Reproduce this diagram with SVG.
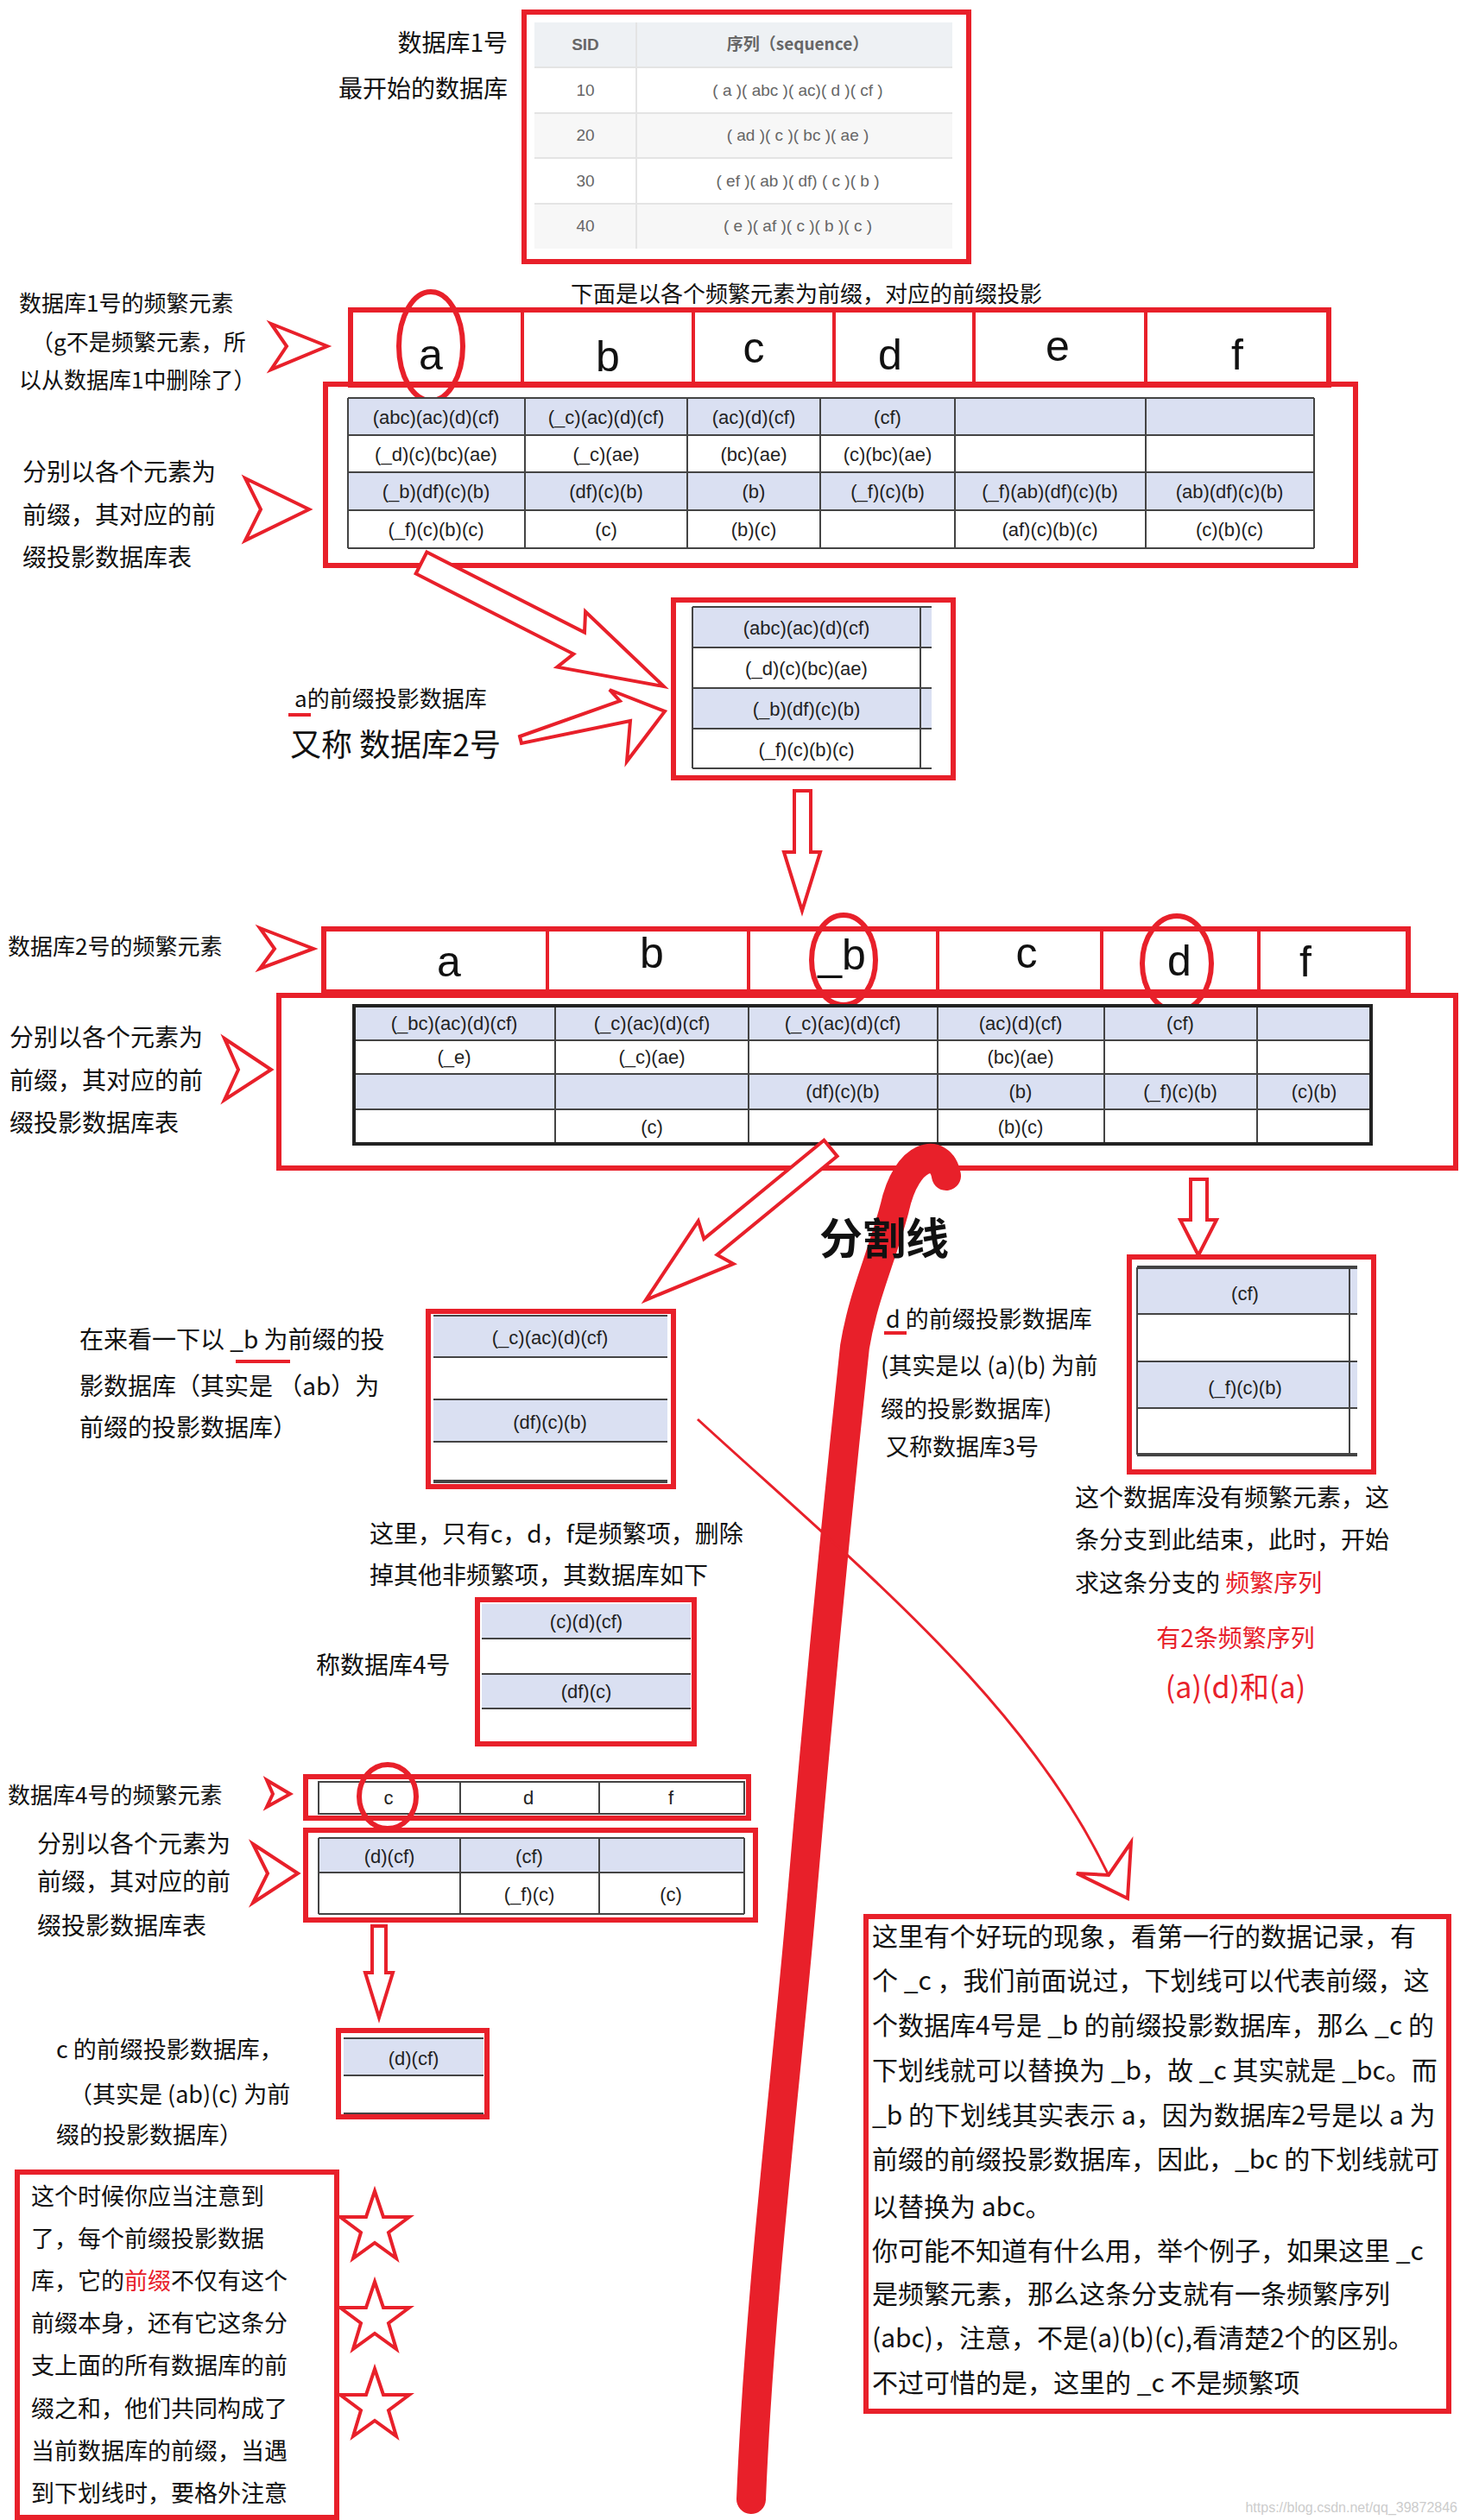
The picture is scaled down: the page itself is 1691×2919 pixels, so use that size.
<svg xmlns="http://www.w3.org/2000/svg" width="1691" height="2919" viewBox="0 0 1691 2919">
<style>
.cn{font-family:"Noto Sans CJK SC","Liberation Sans",sans-serif;fill:#111}
.red{fill:#e8202a}
.rb{fill:none;stroke:#e8202a;stroke-width:6}
.hol{fill:#fff;stroke:#e8202a;stroke-width:4}
.cell{font-family:"Liberation Sans","DejaVu Sans",sans-serif;font-size:22px;fill:#222;text-anchor:middle}
.big{font-family:"Liberation Sans",sans-serif;font-size:50px;fill:#111;text-anchor:middle}
.blue{fill:#dae0f2}
.gl{stroke:#444;stroke-width:2}
.tl{font-family:"Liberation Sans",sans-serif;font-size:19px;fill:#666;text-anchor:middle}
</style>
<rect width="1691" height="2919" fill="#fff"/>

<!-- DB1 -->
<g id="db1">
<text class="cn" x="588" y="60" font-size="28" text-anchor="end">数据库1号</text>
<text class="cn" x="588" y="113" font-size="28" text-anchor="end">最开始的数据库</text>
<rect x="619" y="26" width="484" height="52" fill="#eef1f4"/>
<rect x="619" y="131" width="484" height="52" fill="#f7f7f7"/>
<rect x="619" y="236" width="484" height="52" fill="#f7f7f7"/>
<g stroke="#e4e4e4" stroke-width="2"><line x1="619" y1="78" x2="1103" y2="78"/><line x1="619" y1="131" x2="1103" y2="131"/><line x1="619" y1="183" x2="1103" y2="183"/><line x1="619" y1="236" x2="1103" y2="236"/><line x1="737" y1="26" x2="737" y2="288"/></g>
<text class="tl" x="678" y="58" font-weight="bold" font-size="18">SID</text>
<text class="tl" x="924" y="58" font-weight="bold" font-size="18" style="font-family:'Noto Sans CJK SC',sans-serif">序列（sequence）</text>
<text class="tl" x="678" y="111">10</text><text class="tl" x="924" y="111">( a )( abc )( ac)( d )( cf )</text>
<text class="tl" x="678" y="163">20</text><text class="tl" x="924" y="163">( ad )( c )( bc )( ae )</text>
<text class="tl" x="678" y="216">30</text><text class="tl" x="924" y="216">( ef )( ab )( df) ( c )( b )</text>
<text class="tl" x="678" y="268">40</text><text class="tl" x="924" y="268">( e )( af )( c )( b )( c )</text>
<rect class="rb" x="607" y="14" width="515" height="289"/>
</g>

<!-- DB1 frequent header -->
<g id="db1-header">
<text class="cn" x="22" y="361" font-size="26">数据库1号的频繁元素</text>
<text class="cn" x="36" y="406" font-size="26">（g不是频繁元素，所</text>
<text class="cn" x="22" y="450" font-size="26">以从数据库1中删除了）</text>
<polygon class="hol" points="314,375 379,401 314,428 332,401"/>
<text class="cn" x="661" y="350" font-size="26">下面是以各个频繁元素为前缀，对应的前缀投影</text>
<rect class="rb" x="406" y="359" width="1133" height="87"/>
<g stroke="#e8202a" stroke-width="4"><line x1="605" y1="359" x2="605" y2="446"/><line x1="803" y1="359" x2="803" y2="446"/><line x1="966" y1="359" x2="966" y2="446"/><line x1="1128" y1="359" x2="1128" y2="446"/><line x1="1327" y1="359" x2="1327" y2="446"/></g>
<text class="big" x="499" y="428">a</text><text class="big" x="704" y="430">b</text><text class="big" x="873" y="420">c</text><text class="big" x="1031" y="428">d</text><text class="big" x="1225" y="418">e</text><text class="big" x="1433" y="428">f</text>
<ellipse class="rb" cx="499" cy="401" rx="37" ry="63" stroke-width="5"/>
</g>

<!-- DB1 projection table -->
<g id="db1-proj">
<text class="cn" x="26" y="557" font-size="28">分别以各个元素为</text>
<text class="cn" x="26" y="607" font-size="28">前缀，其对应的前</text>
<text class="cn" x="26" y="656" font-size="28">缀投影数据库表</text>
<polygon class="hol" points="284,554 358,590 284,626 302,590"/>
<rect class="blue" x="403" y="461" width="1119" height="43"/>
<rect class="blue" x="403" y="547" width="1119" height="44"/>
<g class="gl"><line x1="403" y1="461" x2="1522" y2="461"/><line x1="403" y1="504" x2="1522" y2="504"/><line x1="403" y1="547" x2="1522" y2="547"/><line x1="403" y1="591" x2="1522" y2="591"/><line x1="403" y1="635" x2="1522" y2="635"/>
<line x1="403" y1="461" x2="403" y2="635"/><line x1="608" y1="461" x2="608" y2="635"/><line x1="796" y1="461" x2="796" y2="635"/><line x1="950" y1="461" x2="950" y2="635"/><line x1="1106" y1="461" x2="1106" y2="635"/><line x1="1327" y1="461" x2="1327" y2="635"/><line x1="1522" y1="461" x2="1522" y2="635"/></g>
<g font-size="23">
<text class="cell" x="505" y="491">(abc)(ac)(d)(cf)</text><text class="cell" x="702" y="491">(_c)(ac)(d)(cf)</text><text class="cell" x="873" y="491">(ac)(d)(cf)</text><text class="cell" x="1028" y="491">(cf)</text>
<text class="cell" x="505" y="534">(_d)(c)(bc)(ae)</text><text class="cell" x="702" y="534">(_c)(ae)</text><text class="cell" x="873" y="534">(bc)(ae)</text><text class="cell" x="1028" y="534">(c)(bc)(ae)</text>
<text class="cell" x="505" y="577">(_b)(df)(c)(b)</text><text class="cell" x="702" y="577">(df)(c)(b)</text><text class="cell" x="873" y="577">(b)</text><text class="cell" x="1028" y="577">(_f)(c)(b)</text><text class="cell" x="1216" y="577">(_f)(ab)(df)(c)(b)</text><text class="cell" x="1424" y="577">(ab)(df)(c)(b)</text>
<text class="cell" x="505" y="621">(_f)(c)(b)(c)</text><text class="cell" x="702" y="621">(c)</text><text class="cell" x="873" y="621">(b)(c)</text><text class="cell" x="1216" y="621">(af)(c)(b)(c)</text><text class="cell" x="1424" y="621">(c)(b)(c)</text>
</g>
<rect class="rb" x="377" y="445" width="1193" height="210"/>
</g>

<!-- DB2 -->
<g id="db2">
<text class="cn" x="341" y="819" font-size="26">a的前缀投影数据库</text>
<line x1="334" y1="828" x2="360" y2="828" stroke="#e8202a" stroke-width="4"/>
<text class="cn" x="336" y="876" font-size="36">又称 数据库2号</text>
<rect class="blue" x="802" y="703" width="277" height="47"/>
<rect class="blue" x="802" y="797" width="277" height="47"/>
<g class="gl"><line x1="802" y1="703" x2="1079" y2="703"/><line x1="802" y1="750" x2="1079" y2="750"/><line x1="802" y1="797" x2="1079" y2="797"/><line x1="802" y1="844" x2="1079" y2="844"/><line x1="802" y1="890" x2="1079" y2="890"/><line x1="802" y1="703" x2="802" y2="890"/><line x1="1066" y1="703" x2="1066" y2="890"/></g>
<text class="cell" x="934" y="735" font-size="25">(abc)(ac)(d)(cf)</text>
<text class="cell" x="934" y="782" font-size="25">(_d)(c)(bc)(ae)</text>
<text class="cell" x="934" y="829" font-size="25">(_b)(df)(c)(b)</text>
<text class="cell" x="934" y="876" font-size="25">(_f)(c)(b)(c)</text>
<rect class="rb" x="780" y="695" width="324" height="206"/>
</g>

<!-- DB2 header -->
<g id="db2-header">
<text class="cn" x="9" y="1106" font-size="26">数据库2号的频繁元素</text>
<polygon class="hol" points="301,1075 363,1099 301,1122 318,1099"/>
<rect class="rb" x="375" y="1076" width="1256" height="73"/>
<g stroke="#e8202a" stroke-width="4"><line x1="634" y1="1076" x2="634" y2="1149"/><line x1="867" y1="1076" x2="867" y2="1149"/><line x1="1086" y1="1076" x2="1086" y2="1149"/><line x1="1276" y1="1076" x2="1276" y2="1149"/><line x1="1458" y1="1076" x2="1458" y2="1149"/></g>
<text class="big" x="520" y="1131">a</text><text class="big" x="755" y="1121">b</text><text class="big" x="975" y="1123">_b</text><text class="big" x="1189" y="1121">c</text><text class="big" x="1366" y="1130">d</text><text class="big" x="1512" y="1131">f</text>
<ellipse class="rb" cx="977" cy="1112" rx="37" ry="52" stroke-width="5"/>
<ellipse class="rb" cx="1363" cy="1116" rx="40" ry="55" stroke-width="5"/>
</g>

<!-- DB2 projection table -->
<g id="db2-proj">
<text class="cn" x="11" y="1212" font-size="28">分别以各个元素为</text>
<text class="cn" x="11" y="1262" font-size="28">前缀，其对应的前</text>
<text class="cn" x="11" y="1311" font-size="28">缀投影数据库表</text>
<polygon class="hol" points="260,1203 314,1239 260,1274 276,1239"/>
<rect class="blue" x="410" y="1165" width="1178" height="40"/>
<rect class="blue" x="410" y="1244" width="1178" height="41"/>
<g class="gl"><line x1="410" y1="1205" x2="1588" y2="1205"/><line x1="410" y1="1244" x2="1588" y2="1244"/><line x1="410" y1="1285" x2="1588" y2="1285"/>
<line x1="643" y1="1165" x2="643" y2="1325"/><line x1="867" y1="1165" x2="867" y2="1325"/><line x1="1086" y1="1165" x2="1086" y2="1325"/><line x1="1279" y1="1165" x2="1279" y2="1325"/><line x1="1456" y1="1165" x2="1456" y2="1325"/></g>
<rect x="410" y="1165" width="1178" height="160" fill="none" stroke="#222" stroke-width="4"/>
<text class="cell" x="526" y="1193">(_bc)(ac)(d)(cf)</text><text class="cell" x="755" y="1193">(_c)(ac)(d)(cf)</text><text class="cell" x="976" y="1193">(_c)(ac)(d)(cf)</text><text class="cell" x="1182" y="1193">(ac)(d)(cf)</text><text class="cell" x="1367" y="1193">(cf)</text>
<text class="cell" x="526" y="1232">(_e)</text><text class="cell" x="755" y="1232">(_c)(ae)</text><text class="cell" x="1182" y="1232">(bc)(ae)</text>
<text class="cell" x="976" y="1272">(df)(c)(b)</text><text class="cell" x="1182" y="1272">(b)</text><text class="cell" x="1367" y="1272">(_f)(c)(b)</text><text class="cell" x="1522" y="1272">(c)(b)</text>
<text class="cell" x="755" y="1313">(c)</text><text class="cell" x="1182" y="1313">(b)(c)</text>
<rect class="rb" x="323" y="1153" width="1363" height="200"/>
</g>

<!-- _b projection -->
<g id="db-b">
<text class="cn" x="92" y="1562" font-size="28">在来看一下以 _b 为前缀的投</text>
<line x1="273" y1="1577" x2="336" y2="1577" stroke="#e8202a" stroke-width="4"/>
<text class="cn" x="92" y="1616" font-size="28">影数据库（其实是 （ab）为</text>
<text class="cn" x="92" y="1664" font-size="28">前缀的投影数据库）</text>
<rect class="blue" x="502" y="1524" width="271" height="48"/>
<rect class="blue" x="502" y="1621" width="271" height="49"/>
<g class="gl"><line x1="502" y1="1524" x2="773" y2="1524"/><line x1="502" y1="1572" x2="773" y2="1572"/><line x1="502" y1="1621" x2="773" y2="1621"/><line x1="502" y1="1670" x2="773" y2="1670"/><line x1="502" y1="1716" x2="773" y2="1716" stroke-width="4"/></g>
<text class="cell" x="637" y="1557" font-size="28">(_c)(ac)(d)(cf)</text>
<text class="cell" x="637" y="1655" font-size="28">(df)(c)(b)</text>
<rect class="rb" x="496" y="1519" width="284" height="203"/>
</g>

<!-- split line -->
<g id="split">
<path d="M1096,1362 C1090,1328 1050,1335 1036,1400 C1020,1460 1000,1500 990,1560 C975,1700 950,1950 930,2184 C912,2400 880,2650 870,2895" fill="none" stroke="#e8202a" stroke-width="34" stroke-linecap="round"/>
<text class="cn" x="1024" y="1453" font-size="50" font-weight="bold" text-anchor="middle">分割线</text>
</g>

<!-- DB3 -->
<g id="db3">
<text class="cn" x="1026" y="1538" font-size="27">d 的前缀投影数据库</text>
<line x1="1024" y1="1544" x2="1050" y2="1544" stroke="#e8202a" stroke-width="4"/>
<text class="cn" x="1020" y="1592" font-size="27">(其实是以 (a)(b) 为前</text>
<text class="cn" x="1020" y="1642" font-size="27">缀的投影数据库)</text>
<text class="cn" x="1026" y="1686" font-size="27">又称数据库3号</text>
<rect class="blue" x="1317" y="1468" width="255" height="54"/>
<rect class="blue" x="1317" y="1577" width="255" height="54"/>
<g class="gl"><line x1="1317" y1="1468" x2="1572" y2="1468" stroke-width="4"/><line x1="1317" y1="1522" x2="1572" y2="1522"/><line x1="1317" y1="1577" x2="1572" y2="1577"/><line x1="1317" y1="1631" x2="1572" y2="1631"/><line x1="1317" y1="1685" x2="1572" y2="1685" stroke-width="4"/><line x1="1317" y1="1468" x2="1317" y2="1685"/><line x1="1563" y1="1468" x2="1563" y2="1685"/></g>
<text class="cell" x="1442" y="1506" font-size="32">(cf)</text>
<text class="cell" x="1442" y="1615" font-size="32">(_f)(c)(b)</text>
<rect class="rb" x="1308" y="1456" width="283" height="249"/>
<text class="cn" x="1245" y="1745" font-size="28">这个数据库没有频繁元素，这</text>
<text class="cn" x="1245" y="1794" font-size="28">条分支到此结束，此时，开始</text>
<text class="cn" x="1245" y="1844" font-size="28">求这条分支的 <tspan class="red">频繁序列</tspan></text>
<text class="cn red" x="1431" y="1908" font-size="28" text-anchor="middle">有2条频繁序列</text>
<text class="cn red" x="1431" y="1967" font-size="34" text-anchor="middle">(a)(d)和(a)</text>
</g>

<!-- DB4 -->
<g id="db4">
<text class="cn" x="428" y="1787" font-size="28">这里，只有c，d，f是频繁项，删除</text>
<text class="cn" x="428" y="1835" font-size="28">掉其他非频繁项，其数据库如下</text>
<text class="cn" x="366" y="1939" font-size="28">称数据库4号</text>
<rect class="blue" x="558" y="1858" width="242" height="40"/>
<rect class="blue" x="558" y="1939" width="242" height="40"/>
<g class="gl"><line x1="558" y1="1898" x2="800" y2="1898"/><line x1="558" y1="1939" x2="800" y2="1939"/><line x1="558" y1="1979" x2="800" y2="1979"/></g>
<text class="cell" x="679" y="1886" font-size="25">(c)(d)(cf)</text>
<text class="cell" x="679" y="1967" font-size="25">(df)(c)</text>
<rect class="rb" x="553" y="1853" width="251" height="167"/>
</g>

<!-- DB4 header -->
<g id="db4-header">
<text class="cn" x="9" y="2089" font-size="26">数据库4号的频繁元素</text>
<polygon class="hol" points="309,2062 336,2078 309,2093 316,2078" stroke-width="3"/>
<rect x="369" y="2064" width="493" height="37" fill="none" stroke="#444" stroke-width="2"/>
<g class="gl"><line x1="533" y1="2064" x2="533" y2="2101"/><line x1="694" y1="2064" x2="694" y2="2101"/></g>
<text class="cell" x="450" y="2090" font-size="26">c</text><text class="cell" x="612" y="2090" font-size="26">d</text><text class="cell" x="777" y="2090" font-size="26">f</text>
<rect class="rb" x="354" y="2058" width="513" height="48"/>
<ellipse class="rb" cx="449" cy="2081" rx="33" ry="37" stroke-width="4"/>
</g>

<!-- DB4 projection -->
<g id="db4-proj">
<text class="cn" x="43" y="2146" font-size="28">分别以各个元素为</text>
<text class="cn" x="43" y="2190" font-size="28">前缀，其对应的前</text>
<text class="cn" x="43" y="2241" font-size="28">缀投影数据库表</text>
<polygon class="hol" points="293,2136 345,2170 293,2204 310,2170"/>
<rect class="blue" x="369" y="2129" width="493" height="40"/>
<g class="gl"><line x1="369" y1="2129" x2="862" y2="2129"/><line x1="369" y1="2169" x2="862" y2="2169"/><line x1="369" y1="2217" x2="862" y2="2217"/><line x1="369" y1="2129" x2="369" y2="2217"/><line x1="533" y1="2129" x2="533" y2="2217"/><line x1="694" y1="2129" x2="694" y2="2217"/><line x1="862" y1="2129" x2="862" y2="2217"/></g>
<text class="cell" x="451" y="2158" font-size="25">(d)(cf)</text><text class="cell" x="613" y="2158" font-size="25">(cf)</text>
<text class="cell" x="613" y="2202" font-size="25">(_f)(c)</text><text class="cell" x="777" y="2202" font-size="25">(c)</text>
<rect class="rb" x="354" y="2120" width="521" height="104"/>
</g>

<!-- c projection -->
<g id="db-c">
<text class="cn" x="65" y="2384" font-size="27">c 的前缀投影数据库，</text>
<text class="cn" x="80" y="2436" font-size="27">（其实是 (ab)(c) 为前</text>
<text class="cn" x="65" y="2483" font-size="27">缀的投影数据库）</text>
<rect class="blue" x="398" y="2361" width="162" height="43"/>
<g class="gl"><line x1="398" y1="2361" x2="560" y2="2361"/><line x1="398" y1="2404" x2="560" y2="2404"/><line x1="398" y1="2448" x2="560" y2="2448"/></g>
<text class="cell" x="479" y="2392" font-size="25">(d)(cf)</text>
<rect class="rb" x="392" y="2352" width="172" height="100"/>
</g>

<!-- notes -->
<g id="note-left">
<rect class="rb" x="20" y="2516" width="370" height="400"/>
<g class="cn" font-size="27">
<text x="36" y="2554">这个时候你应当注意到</text>
<text x="36" y="2603">了，每个前缀投影数据</text>
<text x="36" y="2652">库，它的<tspan class="red">前缀</tspan>不仅有这个</text>
<text x="36" y="2701">前缀本身，还有它这条分</text>
<text x="36" y="2750">支上面的所有数据库的前</text>
<text x="36" y="2800">缀之和，他们共同构成了</text>
<text x="36" y="2849">当前数据库的前缀，当遇</text>
<text x="36" y="2898">到下划线时，要格外注意</text>
</g>
</g>
<g id="stars" fill="#fff" stroke="#e8202a" stroke-width="4">
<polygon transform="translate(434,2582)" points="0,-44 10,-14 40,-14 16,4 25,34 0,16 -25,34 -16,4 -40,-14 -10,-14"/>
<polygon transform="translate(434,2687)" points="0,-44 10,-14 40,-14 16,4 25,34 0,16 -25,34 -16,4 -40,-14 -10,-14"/>
<polygon transform="translate(434,2788)" points="0,-44 10,-14 40,-14 16,4 25,34 0,16 -25,34 -16,4 -40,-14 -10,-14"/>
</g>
<g id="note-right">
<rect class="rb" x="1003" y="2220" width="675" height="573"/>
<g class="cn" font-size="30">
<text x="1010" y="2254">这里有个好玩的现象，看第一行的数据记录，有</text>
<text x="1010" y="2305">个 _c ，我们前面说过，下划线可以代表前缀，这</text>
<text x="1010" y="2357">个数据库4号是 _b 的前缀投影数据库，那么 _c 的</text>
<text x="1010" y="2409">下划线就可以替换为 _b，故 _c 其实就是 _bc。而</text>
<text x="1010" y="2461">_b 的下划线其实表示 a，因为数据库2号是以 a 为</text>
<text x="1010" y="2512">前缀的前缀投影数据库，因此，_bc 的下划线就可</text>
<text x="1010" y="2567">以替换为 abc。</text>
<text x="1010" y="2618">你可能不知道有什么用，举个例子，如果这里 _c</text>
<text x="1010" y="2668">是频繁元素，那么这条分支就有一条频繁序列</text>
<text x="1010" y="2719">(abc)，注意，不是(a)(b)(c),看清楚2个的区别。</text>
<text x="1010" y="2771">不过可惜的是，这里的 _c 不是频繁项</text>
</g>
</g>

<!-- connectors -->
<g id="connectors">
<polygon class="hol" transform="translate(488,652) rotate(27)" points="0,-14 205,-14 195,-36 315,0 195,36 205,14 0,14"/>
<polygon class="hol" points="602,853 718,812 706,799 770,824 726,882 730,835 604,861"/>
<polygon class="hol" points="920,916 939,916 939,987 950,987 929,1055 908,987 920,987"/>
<polygon class="hol" transform="translate(962,1330) rotate(140.6)" points="0,-12 180,-12 172,-32 277,0 172,32 180,12 0,12"/>
<polygon class="hol" points="1379,1366 1398,1366 1398,1413 1409,1413 1388,1454 1367,1413 1379,1413"/>
<polygon class="hol" points="431,2231 447,2231 447,2285 455,2285 439,2337 423,2285 431,2285"/>
<path d="M808,1644 C1000,1820 1200,1980 1292,2190" fill="none" stroke="#e8202a" stroke-width="3"/>
<polygon class="hol" points="1306,2199 1247,2170 1284,2172 1310,2134" stroke-width="3"/>
</g>
<text x="1688" y="2910" font-family="Liberation Sans,sans-serif" font-size="16" fill="#ccc" text-anchor="end">https://blog.csdn.net/qq_39872846</text>
</svg>
